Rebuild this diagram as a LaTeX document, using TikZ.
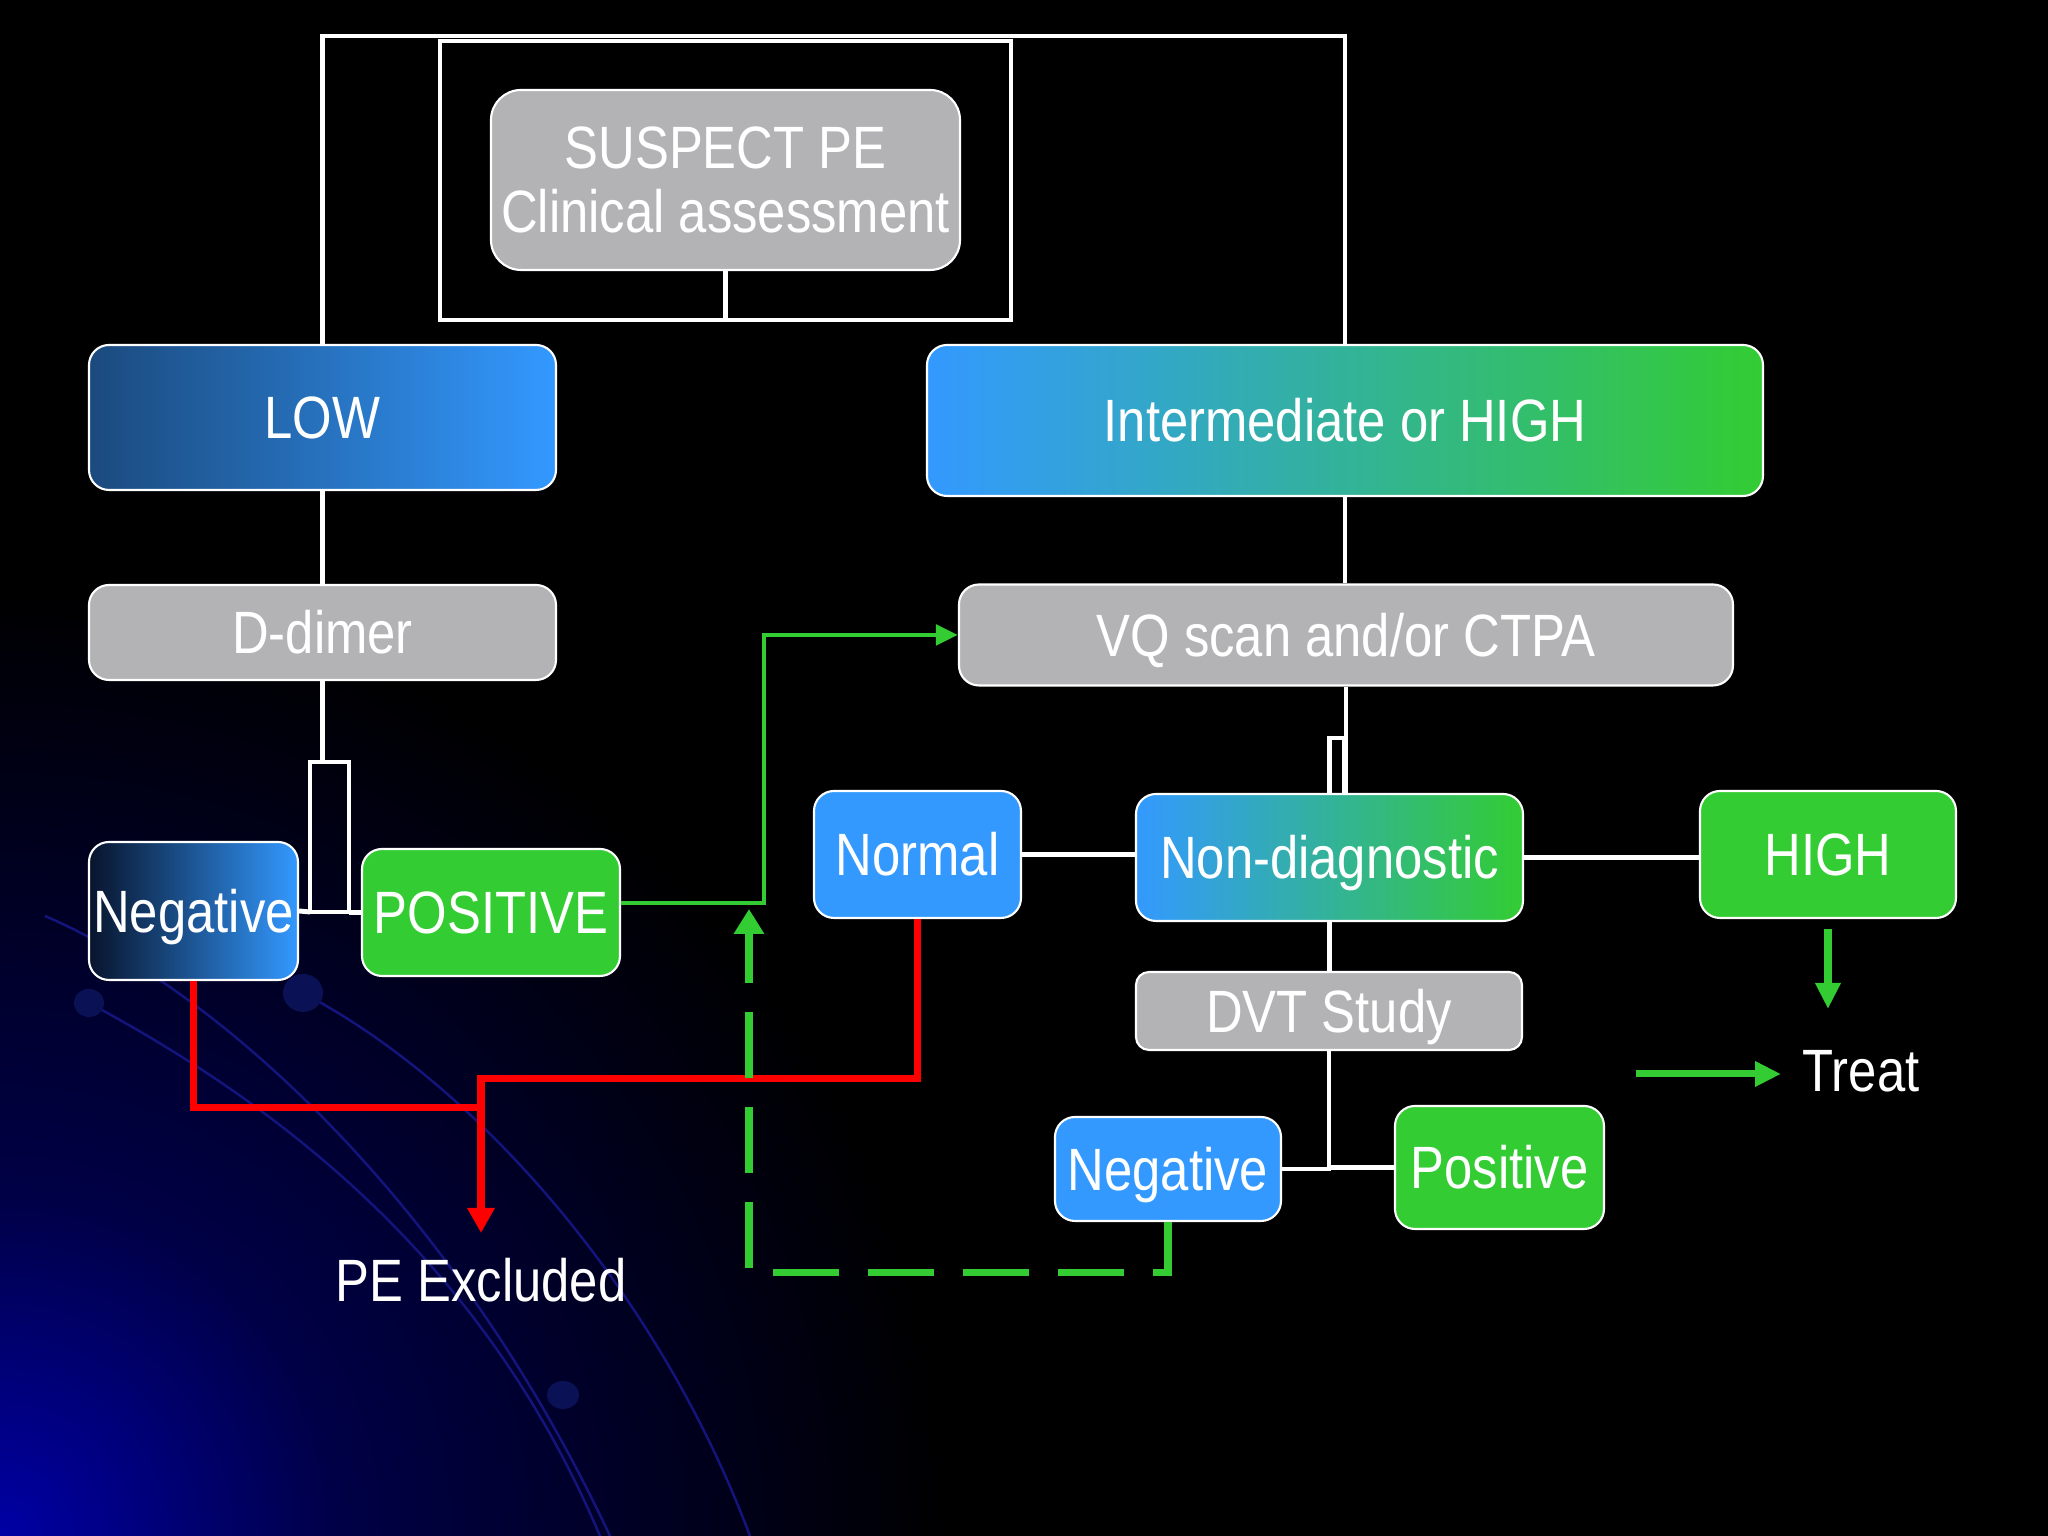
\documentclass[tikz,border=0pt]{standalone}
\usepackage{fontspec}
\setmainfont{Liberation Sans}[FakeStretch=0.85]
\usepackage{xcolor}
\usepackage{tikz}
\usetikzlibrary{arrows.meta,positioning,calc}

\definecolor{boxgray}{RGB}{179,178,180}
\definecolor{boxblue}{RGB}{51,153,255}
\definecolor{boxgreen}{RGB}{51,204,51}
\definecolor{lowblue}{RGB}{27,74,125}
\definecolor{negnavy}{RGB}{8,20,45}
\definecolor{arcnavy}{RGB}{20,20,125}
\definecolor{dotnavy}{RGB}{10,18,85}
\definecolor{glowblue}{RGB}{0,0,165}
\definecolor{glowmid}{RGB}{0,0,70}
\definecolor{exred}{RGB}{255,0,0}

\pgfdeclareradialshading{cornerglow}{\pgfpoint{0bp}{0bp}}{%
  color(0bp)=(glowblue); color(9bp)=(glowmid); color(25bp)=(black); color(50bp)=(black)}

\begin{document}
\begin{tikzpicture}[
    every node/.style={font=\fontsize{17}{18}\selectfont,text=white},
    box/.style      ={rectangle,rounded corners=2mm,draw=white,
                     line width=0.6pt,inner sep=0pt,align=center},
    oneline/.style  ={box,text height=12pt,text depth=0pt},
    graybox/.style  ={oneline,fill=boxgray},
    bluebox/.style  ={oneline,fill=boxblue},
    greenbox/.style ={oneline,fill=boxgreen},
    mixbox/.style   ={oneline,left color=boxblue,right color=boxgreen},
    link/.style     ={-,white,line width=1.4pt},
    exline/.style   ={-,exred,line width=2pt},
    exarrow/.style  ={-{Triangle[length=2.5mm,width=2.6mm]},exred,line width=2pt},
    goarrow/.style  ={-{Triangle[length=2.2mm,width=2mm]},boxgreen,line width=1.4pt},
    backarrow/.style={-{Triangle[length=2.5mm,width=2.9mm]},boxgreen,line width=2pt,
                     dash pattern=on 6.6mm off 2.9mm},
    treatarrow/.style={-{Triangle[length=2.6mm,width=2.4mm]},boxgreen,line width=2pt},
    bgarc/.style    ={arcnavy,line width=0.7pt},
  ]
  % --- background ---
  \useasboundingbox (0,0) rectangle (20.48,15.36);
  \fill[black] (0,0) rectangle (20.48,15.36);
  \begin{scope}
    \clip (0,0) rectangle (20.48,15.36);
    \shade[shading=cornerglow] (0,0) circle (9.5);
  \end{scope}
  \draw[bgarc] (0.89,5.33) .. controls (3.0,4.2) and (4.9,2.6) .. (6.0,0);
  \draw[bgarc] (0.45,6.2) .. controls (2.3,5.4) and (4.6,3.2) .. (6.1,0);
  \draw[bgarc] (3.03,5.43) .. controls (4.8,4.5) and (6.6,2.4) .. (7.5,0);
  \fill[dotnavy] (0.89,5.33) ellipse (0.15 and 0.14);
  \fill[dotnavy] (3.03,5.43) ellipse (0.2 and 0.19);
  \fill[dotnavy] (5.63,1.41) ellipse (0.16 and 0.14);

  % --- assessment and risk ---
  \node[box,fill=boxgray,minimum width=4.69cm,minimum height=1.8cm,rounded corners=3mm]
       (suspect) at (7.255,13.56) {SUSPECT PE\\Clinical assessment};
  \node[oneline,left color=lowblue,right color=boxblue,
        minimum width=4.67cm,minimum height=1.45cm] (low) at (3.225,11.185) {LOW};
  \node[mixbox,minimum width=8.36cm,minimum height=1.51cm]
       (inter) at (13.45,11.155) {Intermediate or HIGH};

  % --- tests ---
  \node[graybox,minimum width=4.67cm,minimum height=0.95cm] (ddimer) at (3.225,9.035) {D-dimer};
  \node[graybox,minimum width=7.74cm,minimum height=1.01cm] (vq) at (13.46,9.01) {VQ scan and/or CTPA};
  \node[graybox,minimum width=3.86cm,minimum height=0.78cm,rounded corners=1.3mm]
       (dvt) at (13.29,5.25) {DVT Study};

  % --- results ---
  \node[oneline,left color=negnavy,right color=boxblue,
        minimum width=2.09cm,minimum height=1.38cm] (negL) at (1.935,6.25) {Negative};
  \node[greenbox,minimum width=2.58cm,minimum height=1.27cm] (pos) at (4.91,6.235) {POSITIVE};
  \node[bluebox,minimum width=2.07cm,minimum height=1.27cm] (normal) at (9.175,6.815) {Normal};
  \node[mixbox,minimum width=3.87cm,minimum height=1.27cm] (nondiag) at (13.295,6.785) {Non-diagnostic};
  \node[greenbox,minimum width=2.56cm,minimum height=1.27cm] (high) at (18.28,6.815) {HIGH};
  \node[bluebox,minimum width=2.26cm,minimum height=1.04cm] (negB) at (11.68,3.67) {Negative};
  \node[greenbox,minimum width=2.09cm,minimum height=1.23cm] (posB) at (14.995,3.685) {Positive};

  % --- outcomes ---
  \node (excl) at (4.81,2.56) {PE Excluded};
  \node[anchor=west,inner sep=0pt] (treat) at (18.02,4.65) {Treat};

  % --- bend points ---
  \coordinate (ftop)   at (3.225,15.0);
  \coordinate (boxbl)  at (4.40,12.16);
  \coordinate (boxtr)  at (10.11,14.95);
  \coordinate (dbrk1)  at (3.10,6.24);
  \coordinate (dbrk2)  at (3.49,7.74);
  \coordinate (vqjog)  at (13.44,7.98);
  \coordinate (rjoin)  at (4.81,4.57);
  \coordinate (rmeet)  at (4.81,4.28);
  \coordinate (rtip)   at (4.81,3.03);
  \coordinate (gbend)  at (7.64,6.33);
  \coordinate (dcorn)  at (7.49,2.63);
  \coordinate (dtip)   at (7.49,6.27);
  \coordinate (hightip) at (18.28,5.27);
  \coordinate (legend) at (16.36,4.62);

  % white tree
  \draw[link] (low.north) -- (ftop) -| (inter.north);
  \draw[link] (boxbl) rectangle (boxtr);
  \draw[link] (suspect.south) -- (suspect.south |- boxbl);
  \draw[link] (low.south) -- (ddimer.north);
  \draw[link] (inter.south) -- (inter.south |- vq.north);
  \draw[link] (ddimer.south) -- (ddimer.south |- dbrk2);
  \draw[link] (dbrk1) rectangle (dbrk2);
  \draw[link] (negL.east) -- (dbrk1);
  \draw[link] (pos.west) -- (pos.west -| dbrk2);
  \draw[link] (vq.south) -- (vq.south |- nondiag.north);
  \draw[link] (nondiag.north) |- (vqjog) -- (vqjog |- nondiag.north);
  \draw[link] (normal.east) -- (normal.east -| nondiag.west);
  \draw[link] (nondiag.east) -- (nondiag.east -| high.west);
  \draw[link] (nondiag.south) -- (nondiag.south |- dvt.north);
  \draw[link] (dvt.south) |- (negB.east);
  \draw[link] (dvt.south |- posB.west) -- (posB.west);

  % red: excluded
  \draw[exline] (negL.south) |- (rmeet);
  \draw[exarrow] (normal.south) |- (rjoin) -- (rtip);

  % green: on to imaging, treat
  \draw[goarrow] (gbend -| pos.east) -- (gbend) |- (vq.west);
  \draw[backarrow] (negB.south) |- (dcorn) -- (dtip);
  \draw[treatarrow,shorten <=1mm] (high.south) -- (hightip);
  \draw[treatarrow,shorten >=2.1mm] (legend) -- (legend -| treat.west);
\end{tikzpicture}
\end{document}
